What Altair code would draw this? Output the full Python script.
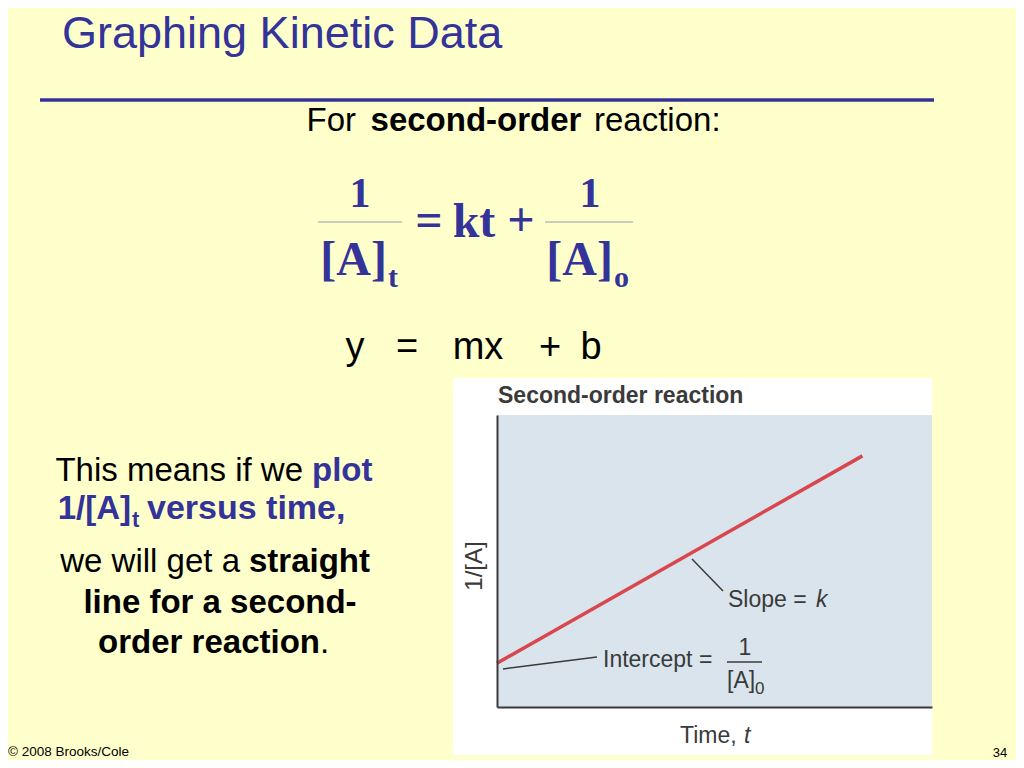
import altair as alt
import pandas as pd

# ---- data ----
time_vals = [0.0, 8.4]          # Time, t
inv_a_vals = [1.5, 8.6]         # 1/[A]
x_domain = [0, 10]
y_domain = [0, 10]

BLUE = "#333399"
INK = "#3a3a3a"
SANS = "Liberation Sans, Arial, sans-serif"
SERIF = "Liberation Serif, Times New Roman, serif"
NARROW = "Liberation Sans Narrow, Arial Narrow, Liberation Sans, sans-serif"

# plot-area origin in page pixels (page margin 8 + padding)
X0, Y0 = 497, 415
PW, PH = 435, 292

one = alt.Data(values=[{"a": 1}])


def txt(s, x, y, size, font=SANS, weight="normal", color="black",
        align="left", baseline="alphabetic", style="normal", angle=0):
    kw = dict(text=s, fontSize=size, font=font, fontWeight=weight,
              color=color, align=align, baseline=baseline, fontStyle=style)
    if angle:
        kw["angle"] = angle
    return alt.Chart(one).mark_text(**kw).encode(
        x=alt.value(x - X0), y=alt.value(y - Y0))


def rule(x1, y1, x2, y2, color, width):
    return alt.Chart(one).mark_rule(color=color, strokeWidth=width).encode(
        x=alt.value(x1 - X0), y=alt.value(y1 - Y0),
        x2=alt.value(x2 - X0), y2=alt.value(y2 - Y0))


def box(x1, y1, x2, y2, color):
    return alt.Chart(one).mark_rect(color=color).encode(
        x=alt.value(x1 - X0), y=alt.value(y1 - Y0),
        x2=alt.value(x2 - X0), y2=alt.value(y2 - Y0))


layers = []

# ---- slide title and rule ----
layers.append(txt("Graphing Kinetic Data", 62, 48, 45, color=BLUE))
layers.append(rule(40, 100, 934, 100, BLUE, 3.5))

# ---- "For second-order reaction:" ----
layers.append(txt("For", 356, 131, 33, align="right"))
layers.append(txt("second-order", 476, 131, 33, weight="bold", align="center"))
layers.append(txt("reaction:", 594, 131, 33))

# ---- equation 1/[A]t = kt + 1/[A]o ----
layers.append(txt("1", 360, 207, 42, font=SERIF, weight="bold", color=BLUE, align="center"))
layers.append(rule(318, 222, 402, 222, "#9a9ab8", 1))
layers.append(txt("[A]", 387, 275, 48, font=SERIF, weight="bold", color=BLUE, align="right"))
layers.append(txt("t", 388, 287, 30, font=SERIF, weight="bold", color=BLUE))
layers.append(txt("=", 429, 236, 48, font=SERIF, weight="bold", color=BLUE, align="center"))
layers.append(txt("kt", 474, 237, 48, font=SERIF, weight="bold", color=BLUE, align="center"))
layers.append(txt("+", 521, 236, 48, font=SERIF, weight="bold", color=BLUE, align="center"))
layers.append(txt("1", 590, 207, 42, font=SERIF, weight="bold", color=BLUE, align="center"))
layers.append(rule(545, 222, 633, 222, "#9a9ab8", 1))
layers.append(txt("[A]", 613, 275, 48, font=SERIF, weight="bold", color=BLUE, align="right"))
layers.append(txt("o", 614, 287, 30, font=SERIF, weight="bold", color=BLUE))

# ---- y = mx + b ----
for s, cx in [("y", 355), ("=", 407), ("mx", 478), ("+", 550), ("b", 591)]:
    layers.append(txt(s, cx, 359, 38, align="center"))

# ---- left paragraph ----
layers.append(txt("This means if we", 303, 481, 33, align="right"))
layers.append(txt("plot", 312, 481, 33, weight="bold", color=BLUE))
layers.append(txt("1/[A]", 131, 519, 33, weight="bold", color=BLUE, align="right"))
layers.append(txt("t", 132, 527, 22, weight="bold", color=BLUE))
layers.append(txt("versus time,", 147, 519, 34, weight="bold", color=BLUE))
layers.append(txt("we will get a", 240, 572, 33, align="right"))
layers.append(txt("straight", 249, 572, 33, weight="bold"))
layers.append(txt("line for a second-", 220, 613, 33, weight="bold", align="center"))
layers.append(txt("order reaction", 320, 653, 33, weight="bold", align="right"))
layers.append(txt(".", 320, 653, 33))

# ---- footer ----
layers.append(txt("\u00a9 2008 Brooks/Cole", 8, 756, 13.5))
layers.append(txt("34", 1000, 757, 13, align="center"))

# ---- inset figure ----
layers.append(box(453, 378, 932, 755, "#ffffff"))
layers.append(box(X0, Y0, X0 + PW, Y0 + PH, "#d9e4ec"))
layers.append(txt("Second-order reaction", 498, 403, 23, font=NARROW, weight="bold", color=INK))

line_df = pd.DataFrame({"time": time_vals, "inv_a": inv_a_vals})
line = alt.Chart(line_df).mark_line(color="#d9464e", strokeWidth=3.5).encode(
    x=alt.X("time:Q", scale=alt.Scale(domain=x_domain, nice=False, zero=False),
            axis=alt.Axis(title=None, labels=False, ticks=False, grid=False,
                          domainColor=INK, domainWidth=2, zindex=1)),
    y=alt.Y("inv_a:Q", scale=alt.Scale(domain=y_domain, nice=False, zero=False),
            axis=alt.Axis(title=None, labels=False, ticks=False, grid=False,
                          domainColor=INK, domainWidth=2, zindex=1)),
)
layers.append(line)

layers.append(txt("1/[A]", 482, 566, 24, font=NARROW, color=INK, align="center", angle=270))
layers.append(txt("Time,", 680, 743, 23, font=NARROW, color=INK))
layers.append(txt("t", 744, 743, 23, font=NARROW, color=INK, style="italic"))

layers.append(rule(692, 559, 723, 591, INK, 1.5))
layers.append(txt("Slope =", 728, 607, 23, font=NARROW, color=INK))
layers.append(txt("k", 816, 607, 23, font=NARROW, color=INK, style="italic"))

layers.append(rule(503, 669, 597, 657, INK, 1.5))
layers.append(txt("Intercept =", 603, 667, 23, font=NARROW, color=INK))
layers.append(txt("1", 745, 655, 23, font=NARROW, color=INK, align="center"))
layers.append(rule(727, 662, 762, 662, INK, 1.5))
layers.append(txt("[A]", 727, 688, 23, font=NARROW, color=INK))
layers.append(txt("0", 755, 694, 17, font=NARROW, color=INK))

chart = alt.layer(*layers).properties(
    width=PW,
    height=PH,
    padding={"left": X0 - 8, "top": Y0 - 8, "right": 1016 - (X0 + PW), "bottom": 760 - (Y0 + PH)},
    autosize=alt.AutoSizeParams(type="none"),
    background="#ffffcc",
).configure_view(stroke=None)

chart.save("out.html", embed_options={"renderer": "svg", "actions": False})
